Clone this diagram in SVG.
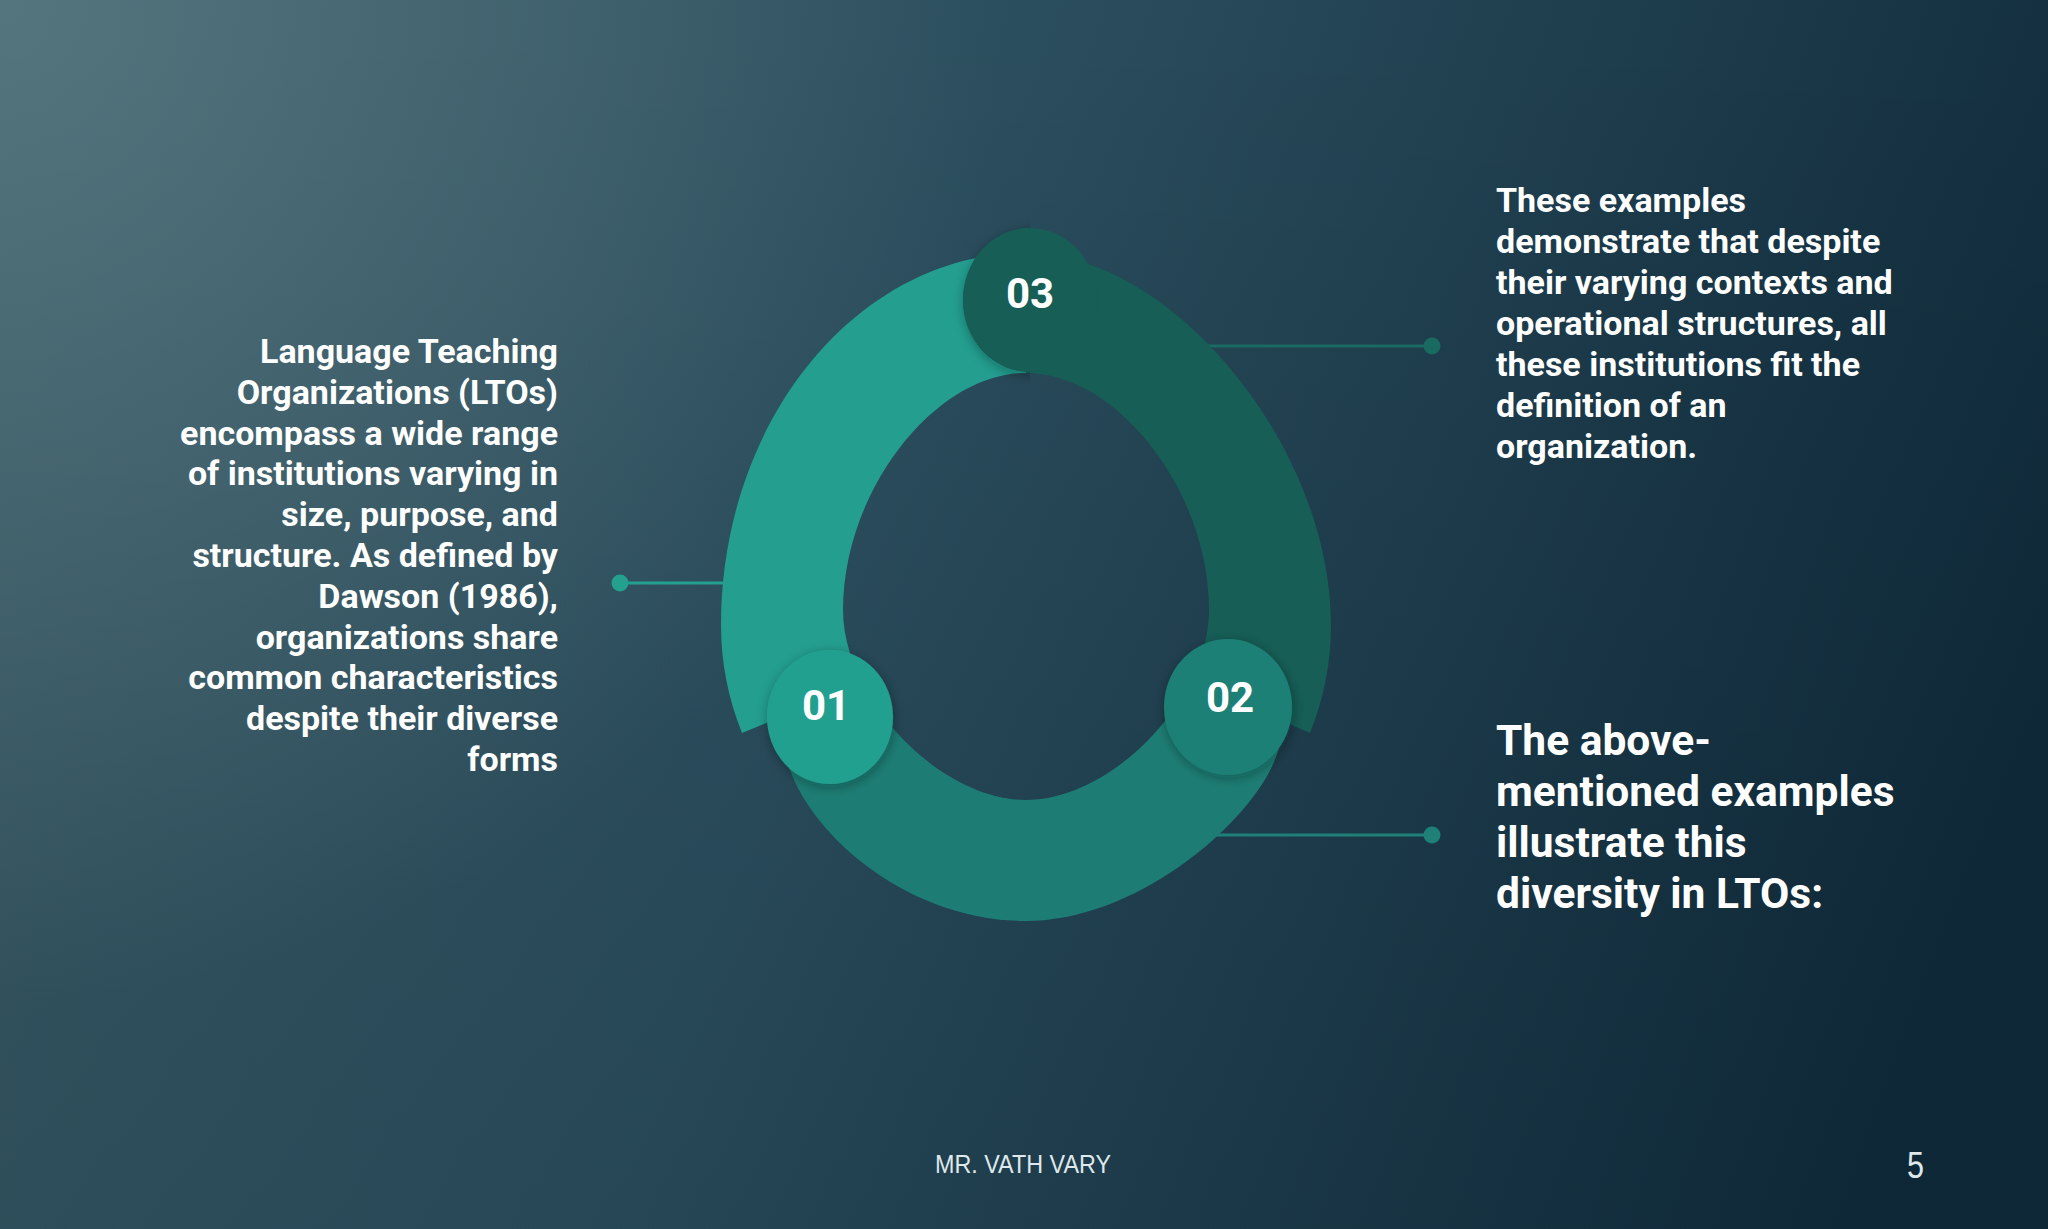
<svg xmlns="http://www.w3.org/2000/svg" width="2048" height="1229" viewBox="0 0 2048 1229">
  <defs>
    <linearGradient id="bg" x1="0" y1="0" x2="2048" y2="700" gradientUnits="userSpaceOnUse">
      <stop offset="0" stop-color="#3a5b65"/>
      <stop offset="0.45" stop-color="#2b4e5e"/>
      <stop offset="1" stop-color="#0f2a3a"/>
    </linearGradient>
    <linearGradient id="bgv" x1="0" y1="0" x2="0" y2="1229" gradientUnits="userSpaceOnUse">
      <stop offset="0" stop-color="#000" stop-opacity="0"/>
      <stop offset="1" stop-color="#04141e" stop-opacity="0.12"/>
    </linearGradient>
    <radialGradient id="glow" cx="0" cy="0" r="1000" gradientUnits="userSpaceOnUse">
      <stop offset="0" stop-color="#5f8088" stop-opacity="0.7"/>
      <stop offset="1" stop-color="#5f8088" stop-opacity="0"/>
    </radialGradient>
    <mask id="hole" maskUnits="userSpaceOnUse" x="0" y="0" width="2048" height="1229">
      <rect x="0" y="0" width="2048" height="1229" fill="#fff"/>
      <path fill="#000" d="M 843 610 C 843 491.5 934.5 373 1026 373 C 1117.5 373 1209 491.5 1209 610 C 1209 699.3 1112 800 1026 800 C 940 800 843 699.3 843 610 Z"/>
    </mask>
    <clipPath id="leftside">
      <rect x="0" y="0" width="1030" height="1229"/>
    </clipPath>
    <filter id="sh" x="-60%" y="-60%" width="220%" height="220%">
      <feDropShadow dx="1" dy="3" stdDeviation="6" flood-color="#06181e" flood-opacity="0.35"/>
    </filter>
    <style>
      .body { font-family: Roboto, "Liberation Sans", sans-serif; font-weight: 700; font-size: 34px; fill: #ffffff; }
      .r { text-anchor: end; }
      .big { font-family: Roboto, "Liberation Sans", sans-serif; font-weight: 700; font-size: 42.5px; fill: #ffffff; }
      .num { font-family: Roboto, "Liberation Sans", sans-serif; font-weight: 700; font-size: 42px; fill: #ffffff; text-anchor: middle; }
      .foot { font-family: "Liberation Sans", Arial, sans-serif; fill: #dfe8ea; }
    </style>
  </defs>

  <rect x="0" y="0" width="2048" height="1229" fill="url(#bg)"/>
  <rect x="0" y="0" width="2048" height="1229" fill="url(#bgv)"/>
  <rect x="0" y="0" width="2048" height="1229" fill="url(#glow)"/>

  <g id="connectors">
    <line x1="620" y1="583" x2="730" y2="583" stroke="#24a08f" stroke-width="3"/>
    <circle cx="620" cy="583" r="8.5" fill="#24a08f"/>
    <line x1="1200" y1="346" x2="1432" y2="346" stroke="#196a60" stroke-width="3"/>
    <circle cx="1432" cy="346" r="8.5" fill="#196a60"/>
    <line x1="1200" y1="835" x2="1432" y2="835" stroke="#1e8077" stroke-width="3"/>
    <circle cx="1432" cy="835" r="8.5" fill="#1e8077"/>
  </g>

  <g id="ring" mask="url(#hole)">
    <path id="band-03" fill="#165e56" d="M 1026 253 C 1172.4 253 1331 446.4 1331 625 A 305 296 0 0 1 1310 733 L 1026 610 Z"/>
    <path id="band-01" fill="#239e8f" d="M 742 733 A 305 296 0 0 1 721 625 C 721 420.4 858.3 253 1026 253 L 1026 617 Z"/>
    <path id="band-02" fill="#1d7d74" d="M 1280 740 C 1275 800 1150 921 1026 921 C 898 921 795 820 785 750 L 1026 617 Z"/>
  </g>

  <g id="node-03">
    <g clip-path="url(#leftside)">
      <ellipse cx="1030" cy="300" rx="67" ry="72" fill="#165e56" filter="url(#sh)"/>
    </g>
    <ellipse cx="1030" cy="300" rx="67" ry="72" fill="#165e56"/>
    <text class="num" x="1030" y="308">03</text>
  </g>
  <g id="node-02">
    <ellipse cx="1228" cy="707" rx="64" ry="68" fill="#1e8077" filter="url(#sh)"/>
    <text class="num" x="1230" y="712">02</text>
  </g>
  <g id="node-01">
    <ellipse cx="830" cy="717" rx="63" ry="67" fill="#24a08f" filter="url(#sh)"/>
    <text class="num" x="826" y="720">01</text>
  </g>

  <g id="text-left">
    <text class="body r" x="558" y="363">Language Teaching</text>
    <text class="body r" x="558" y="403.8">Organizations (LTOs)</text>
    <text class="body r" x="558" y="444.6">encompass a wide range</text>
    <text class="body r" x="558" y="485.4">of institutions varying in</text>
    <text class="body r" x="558" y="526.2">size, purpose, and</text>
    <text class="body r" x="558" y="567">structure. As defined by</text>
    <text class="body r" x="558" y="607.8">Dawson (1986),</text>
    <text class="body r" x="558" y="648.6">organizations share</text>
    <text class="body r" x="558" y="689.4">common characteristics</text>
    <text class="body r" x="558" y="730.2">despite their diverse</text>
    <text class="body r" x="558" y="771">forms</text>
  </g>

  <g id="text-right-top">
    <text class="body" x="1496" y="212">These examples</text>
    <text class="body" x="1496" y="253">demonstrate that despite</text>
    <text class="body" x="1496" y="294">their varying contexts and</text>
    <text class="body" x="1496" y="335">operational structures, all</text>
    <text class="body" x="1496" y="376">these institutions fit the</text>
    <text class="body" x="1496" y="417">definition of an</text>
    <text class="body" x="1496" y="458">organization.</text>
  </g>

  <g id="text-right-bottom">
    <text class="big" x="1496" y="755">The above-</text>
    <text class="big" x="1496" y="806">mentioned examples</text>
    <text class="big" x="1496" y="857">illustrate this</text>
    <text class="big" x="1496" y="908">diversity in LTOs:</text>
  </g>

  <g id="footer">
    <text class="foot" x="935" y="1173" font-size="25" textLength="176" lengthAdjust="spacingAndGlyphs">MR. VATH VARY</text>
    <text class="foot" x="1907" y="1178" font-size="36" textLength="17" lengthAdjust="spacingAndGlyphs">5</text>
  </g>
</svg>
